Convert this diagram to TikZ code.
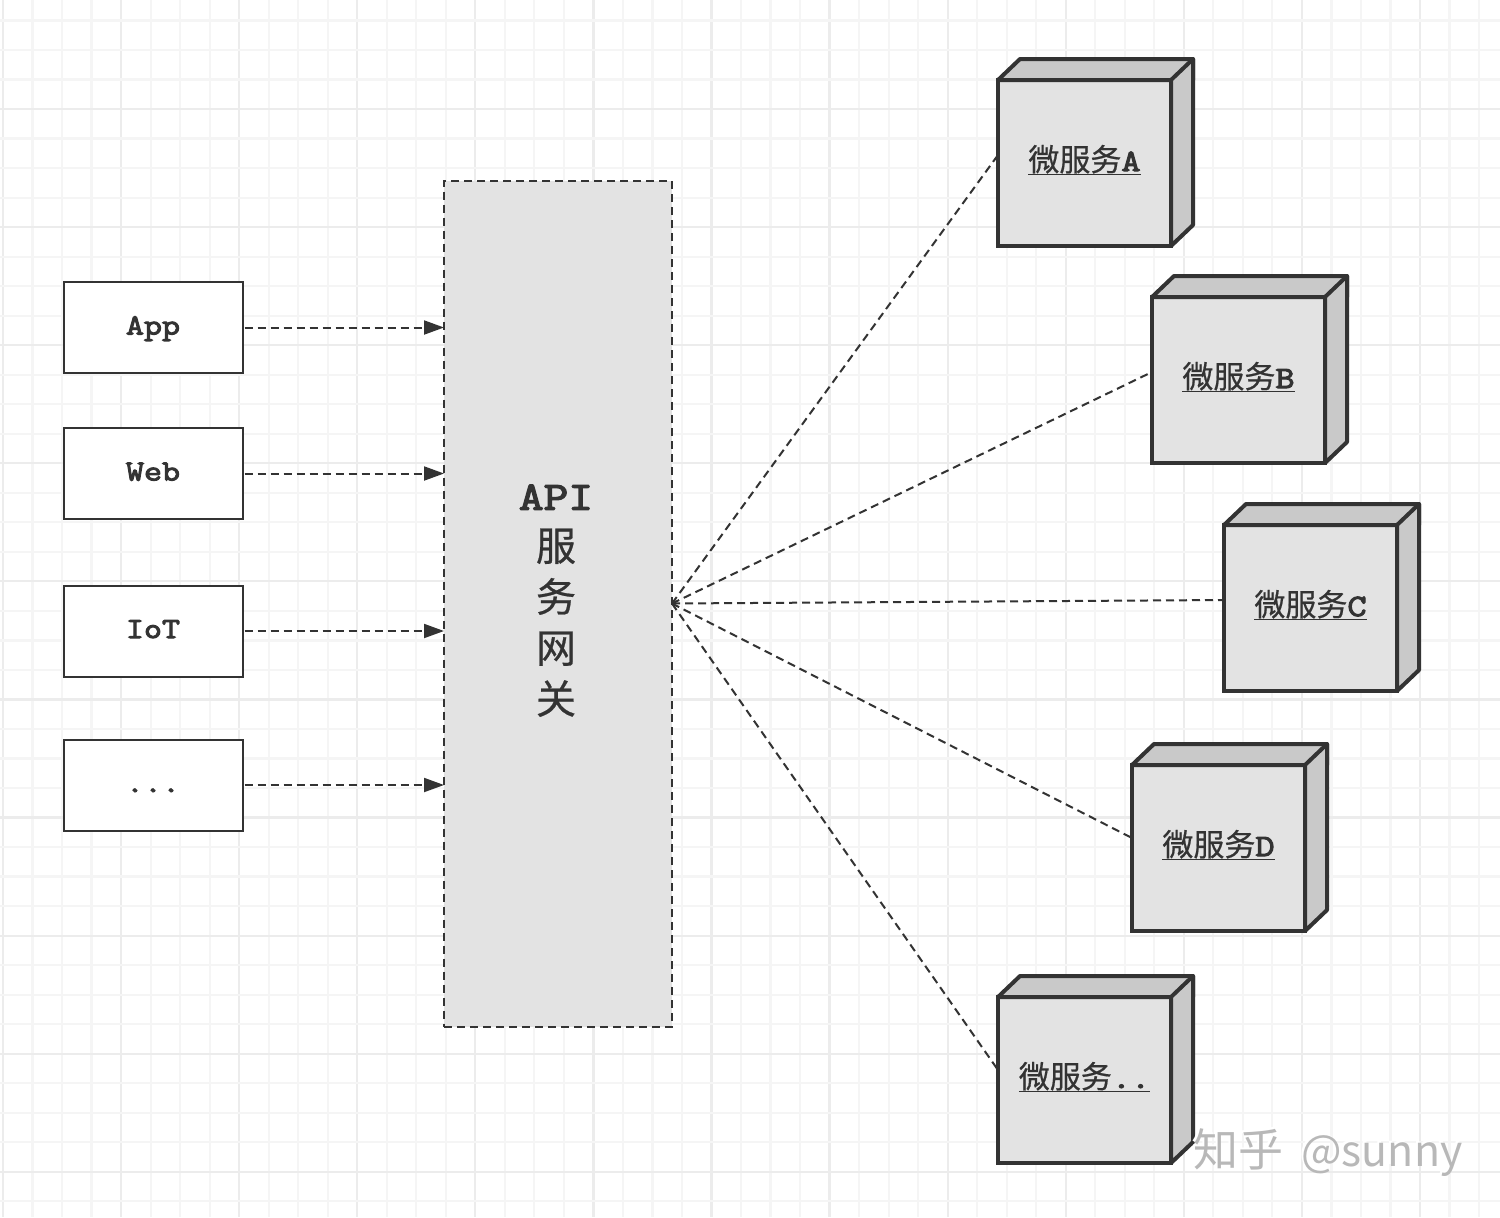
\documentclass[tikz,border=0pt]{standalone}
\usepackage{fontspec}
\usetikzlibrary{arrows.meta}
\newfontfamily\cjk{Noto Sans CJK SC}
\newfontfamily\cjkh[FakeBold=0.6]{Noto Sans CJK SC}
\newfontfamily\slab[FakeBold=3.5,FakeStretch=1.2]{Latin Modern Mono}
\definecolor{ink}{HTML}{333333}
\definecolor{frontc}{HTML}{E3E3E3}
\definecolor{sidec}{HTML}{C9C9C9}
\definecolor{gridmaj}{HTML}{ECECEC}
\definecolor{gridmin}{HTML}{F5F5F5}
\definecolor{markc}{HTML}{B8B8B8}
\newcommand{\svc}[1]{\leavevmode\setbox0=\hbox{\fontsize{15.5}{18}\selectfont{\cjkh 微服务}{\slab #1}}\rlap{\rule[-2.2pt]{\wd0}{0.9pt}}\box0}
\tikzset{
  client/.style={draw=ink,line width=1pt,fill=white,minimum width=89.5pt,minimum height=45.5pt,inner sep=0pt,outer sep=0pt,text=ink,font=\slab\fontsize{14.6}{18}\selectfont,text height=9pt,text depth=2pt},
  gateway/.style={draw=ink,line width=1pt,dash pattern=on 4pt off 2.5pt,fill=frontc,minimum width=114pt,minimum height=423pt,inner sep=0pt,outer sep=0pt,text=ink,align=center,font=\fontsize{20}{25.5}\selectfont\cjkh},
  front/.style={draw=ink,line width=2pt,fill=frontc,minimum width=86.5pt,minimum height=83pt,inner sep=0pt,outer sep=0pt,text=ink,text height=9pt,text depth=1pt},
  depth/.style={draw=ink,line width=2pt,fill=sidec,line join=round},
  call/.style={draw=ink,line width=1pt,dash pattern=on 4pt off 2.5pt,-{Triangle[length=10pt,width=7pt]}},
  link/.style={draw=ink,line width=1pt,dash pattern=on 4pt off 2.5pt},
  gridline/.style={line width=1.1pt},
  wmark/.style={anchor=west,inner sep=0pt,font=\cjk\fontsize{22.5}{24}\selectfont}
}
\begin{document}
\begin{tikzpicture}[x=0.5pt,y=-0.5pt]
\useasboundingbox (0,0) rectangle (1500,1217);
\fill[white] (0,0) rectangle (1500,1217);
% grid
\foreach \i in {0,...,50}{
  \pgfmathsetmacro\gx{3+29.52*\i}
  \pgfmathtruncatemacro\m{mod(\i,4)}
  \ifnum\m=0 \draw[gridline,gridmaj] (\gx,0) -- (\gx,1217);
  \else \draw[gridline,gridmin] (\gx,0) -- (\gx,1217); \fi
}
\foreach \i in {0,...,41}{
  \pgfmathsetmacro\gy{20.5+29.52*\i}
  \pgfmathtruncatemacro\m{mod(\i,4)}
  \ifnum\m=3 \draw[gridline,gridmaj] (0,\gy) -- (1500,\gy);
  \else \draw[gridline,gridmin] (0,\gy) -- (1500,\gy); \fi
}
% clients
\node[client] (app) at (153,327.5) {App};
\node[client] (web) at (153,473.5) {Web};
\node[client] (iot) at (153,631) {IoT};
\node[client] (etc) at (153,785) {...};
% gateway
\node[gateway] (gw) at (558,603.5) {\kern-2pt\raisebox{0pt}[\height][\dimexpr\depth+2pt]{\begin{tabular}{@{}c@{}}{\slab API}\\ 服\\ 务\\ 网\\ 关\end{tabular}}};
% services
\node[front] (a) at (1084.5,163) {\svc{A}};
\node[front] (b) at (1238.5,380) {\svc{B}};
\node[front] (c) at (1310.5,608) {\svc{C}};
\node[front] (d) at (1218.5,848) {\svc{D}};
\node[front] (e) at (1084.5,1080) {\svc{..}};
\foreach \n in {a,b,c,d,e}{
  \draw[depth] (\n.north west) -- ++(22,-21) -| ([xshift=11pt]\n.north east) -- (\n.north east) -- cycle;
  \draw[depth] (\n.north east) -- ++(22,-21) -- ([xshift=11pt,yshift=10.5pt]\n.south east) -- (\n.south east) -- cycle;
}
% connectors
\draw[call] ([xshift=1pt]app.east) -- (app.east -| gw.west);
\draw[call] ([xshift=1pt]web.east) -- (web.east -| gw.west);
\draw[call] ([xshift=1pt]iot.east) -- (iot.east -| gw.west);
\draw[call] ([xshift=1pt]etc.east) -- (etc.east -| gw.west);
\draw[link] (gw.east) -- ([yshift=4pt]a.west);
\draw[link] (gw.east) -- ([yshift=4pt]b.west);
\draw[link] (gw.east) -- ([yshift=4pt]c.west);
\draw[link] (gw.east) -- ([yshift=5pt]d.west);
\draw[link] (gw.east) -- ([yshift=5pt]e.west);
% watermark
\node[wmark,text=white] (mark0) at (1191,1151) {知乎\hspace{9pt}{\fontsize{21.4}{24}\selectfont @sunny}};
\node[wmark,text=markc] (mark) at (1193,1153) {知乎\hspace{9pt}{\fontsize{21.4}{24}\selectfont @sunny}};
\end{tikzpicture}
\end{document}
